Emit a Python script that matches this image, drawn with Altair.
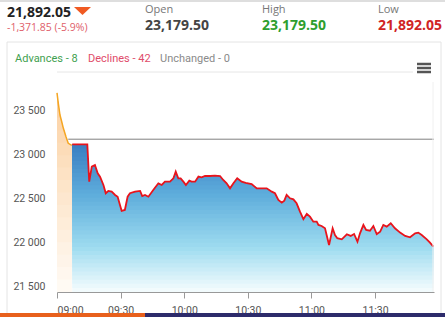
import json
import altair as alt
import pandas as pd

# ---------------- data ----------------
orange_min = [0, 0.6, 1.4, 2.2, 3.0, 4.2, 5.3, 7.0]
orange_val = [23705, 23590, 23454, 23380, 23303, 23210, 23133, 23110]

red_min = [7.2, 14.3, 15.2, 16.4, 17.9, 19.2, 20.3, 21.9, 23.0, 24.2, 25.8, 27.4, 28.6,
           29.7, 30.5, 32.0, 33.3, 34.4, 36.8, 39.2, 40.2, 41.5, 43.1, 45.4, 47.8, 49.4,
           50.9, 53.3, 54.9, 56.0, 57.2, 58.3, 59.6, 60.8, 62.4, 63.5, 65.1, 66.7, 68.2,
           69.8, 72.2, 74.5, 76.9, 78.4, 80.0, 81.6, 83.2, 85.0, 87.1, 89.0, 91.8, 94.2,
           96.5, 98.9, 101.3, 102.8, 104.4, 106.0, 107.2, 108.3, 109.9, 111.5, 113.0,
           114.6, 116.2, 117.8, 119.3, 120.9, 122.5, 123.3, 124.8, 126.4, 128.3, 130.0,
           131.1, 132.2, 134.3, 136.7, 138.5, 140.1, 141.7, 142.9, 144.5, 145.8, 147.6,
           149.2, 150.8, 152.4, 153.9, 155.5, 157.4, 159.4, 161.8, 164.2, 166.5, 168.9,
           170.4, 172.0, 174.4, 175.9, 177.5]
red_val = [23121, 23121, 22697, 22867, 22886, 22792, 22754, 22659, 22565, 22591, 22583, 22546, 22526,
           22432, 22364, 22375, 22526, 22565, 22583, 22591, 22534, 22546, 22526, 22602, 22678, 22659,
           22697, 22697, 22735, 22811, 22735, 22735, 22697, 22659, 22708, 22697, 22697, 22754, 22746,
           22761, 22761, 22765, 22761, 22716, 22678, 22621, 22678, 22735, 22697, 22683, 22670, 22621,
           22621, 22621, 22583, 22565, 22489, 22458, 22481, 22546, 22508, 22496, 22451,
           22356, 22270, 22330, 22299, 22242, 22242, 22205, 22193, 22167, 21977, 22167,
           22091, 22054, 22042, 22099, 22080, 22102, 22015, 22110, 22205, 22148, 22140,
           22193, 22102, 22129, 22205, 22186, 22224, 22167, 22118, 22080, 22065, 22110,
           22118, 22091, 22042, 22004, 21958]

open_val = 23179.5
rule_start_min = 5.3
y_ticks = [21500, 22000, 22500, 23000, 23500]
x_ticks = [0, 30, 60, 90, 120, 150]
x_labels = ["09:00", "09:30", "10:00", "10:30", "11:00", "11:30"]

header_labels = ["Open", "High", "Low"]
header_values = ["23,179.50", "23,179.50", "21,892.05"]
last_value = "21,892.05"
change_text = "-1,371.85 (-5.9%)"
legend_texts = ["Advances - 8", "Declines - 42", "Unchanged - 0"]

# ---------------- tables ----------------
orange_df = pd.DataFrame({"m": orange_min, "v": orange_val})
red_df = pd.DataFrame({"m": red_min, "v": red_val})
rule_df = pd.DataFrame({"m": [rule_start_min], "m2": [177.8], "v": [open_val]})
one = pd.DataFrame({"a": [0]})

W, H = 377, 220
Y_MIN, Y_MAX = 21443, 23943
xs = alt.Scale(domain=[0, 177.8], nice=False, zero=False)
ys = alt.Scale(domain=[Y_MIN, Y_MAX], nice=False, zero=False)

x_axis = alt.Axis(values=x_ticks, labelExpr=json.dumps(x_labels) + "[datum.value/30]",
                  tickSize=6, tickColor="#999", domainColor="#999", labelColor="#555",
                  labelFont="Roboto", labelFontSize=10.5, labelPadding=7, grid=False,
                  title=None)
y_axis = alt.Axis(values=y_ticks, labelExpr="replace(format(datum.value, ','), ',', ' ')",
                  ticks=False, domain=False, grid=False, labelPadding=12,
                  labelColor="#555", labelFont="Roboto", labelFontSize=10.5, title=None)

X = alt.X("m:Q", scale=xs, axis=x_axis)
Y = alt.Y("v:Q", scale=ys, axis=y_axis)


# ----- colour ramp helpers (style only) -----
def hex2rgb(h):
    h = h.lstrip("#")
    return [int(h[i:i + 2], 16) for i in (0, 2, 4)]


def ramp(stops, t):
    for (o0, c0), (o1, c1) in zip(stops, stops[1:]):
        if o0 <= t <= o1:
            f = (t - o0) / (o1 - o0) if o1 > o0 else 0
            a, b = hex2rgb(c0), hex2rgb(c1)
            return "#" + "".join(f"{round(a[i] + (b[i] - a[i]) * f):02x}" for i in range(3))
    return stops[-1][1]


blue_stops = [(0, "#3a7ec2"), (0.35, "#5faedc"), (0.7, "#9fdcf0"), (1, "#f6fcfe")]
orange_stops = [(0, "#fbcf9f"), (0.5, "#fde6cc"), (1, "#fffbf6")]


def banded(df, top_val, stops, n):
    layers = []
    for k in range(n):
        lo = Y_MIN + (top_val - Y_MIN) * k / n
        t = 1 - (k + 0.5) / n
        layers.append(
            alt.Chart(df).transform_calculate(b=f"min(datum.v, {lo})")
            .mark_area(color=ramp(stops, t), opacity=1)
            .encode(x=X, y=Y, y2="b:Q"))
    return layers


blue_bands = banded(red_df, max(red_val), blue_stops, 36)
orange_bands = banded(orange_df, max(orange_val), orange_stops, 16)

red_line = alt.Chart(red_df).mark_line(color="#e8141c", strokeWidth=1.8).encode(x=X, y=Y)
orange_line = alt.Chart(orange_df).mark_line(color="#f5a623", strokeWidth=1.5).encode(x=X, y=Y)
open_rule = alt.Chart(rule_df).mark_rule(color="#808080", strokeWidth=1).encode(
    x=X, x2="m2:Q", y=Y)


def txt(t, px, py, size, color, weight="normal", font="Open Sans"):
    return alt.Chart(one).mark_text(text=t, align="left", baseline="alphabetic",
                                    fontSize=size, color=color, fontWeight=weight,
                                    font=font).encode(x=alt.value(px), y=alt.value(py))


def rect(x1, x2, y1, y2, fill):
    return alt.Chart(one).mark_rect(color=fill).encode(
        x=alt.value(x1), x2=alt.value(x2), y=alt.value(y1), y2=alt.value(y2))


def hline(x1, x2, y, color, width):
    return alt.Chart(one).mark_rule(color=color, strokeWidth=width).encode(
        x=alt.value(x1), x2=alt.value(x2), y=alt.value(y))


def vline(x, y1, y2, color, width):
    return alt.Chart(one).mark_rule(color=color, strokeWidth=width).encode(
        x=alt.value(x), y=alt.value(y1), y2=alt.value(y2))


decor = [
    rect(-57, 388, -72, -70, "#dedede"),
    hline(-50, 384, -30, "#e4e4e4", 1),
    vline(-50, -30, 245, "#e4e4e4", 1),
    vline(384, -30, 245, "#e4e4e4", 1),
    hline(0, 356, 0, "#e6e6e6", 1),
    vline(376, 10, 220, "#f0f0f0", 1),
    rect(-57, 88, 241, 245, "#e8601c"),
    rect(88, 388, 241, 245, "#2d2b6b"),
    hline(360, 374, -8, "#555555", 2.5),
    hline(360, 374, -4, "#555555", 2.5),
    hline(360, 374, 0, "#555555", 2.5),
    txt(last_value, -50, -55, 14, "#222222", "bold"),
    alt.Chart(one).mark_point(shape="M-1,-0.47L1,-0.47L0,0.47Z", filled=True, size=289,
                              color="#f05a22", opacity=1).encode(
        x=alt.value(25.5), y=alt.value(-61)),
    txt(change_text, -50, -41, 10.5, "#e0606a"),
    txt(header_labels[0], 88, -59, 11, "#777777"),
    txt(header_values[0], 88, -42, 14, "#444444", "bold"),
    txt(header_labels[1], 205, -59, 11, "#777777"),
    txt(header_values[1], 205, -42, 14, "#2e9e2e", "bold"),
    txt(header_labels[2], 321, -59, 11, "#777777"),
    txt(header_values[2], 321, -42, 14, "#d02424", "bold"),
    txt(legend_texts[0], -42, -10.5, 11, "#3f9f50", font="Roboto"),
    txt(legend_texts[1], 31, -10.5, 11, "#df4c6a", font="Roboto"),
    txt(legend_texts[2], 103, -10.5, 11, "#8a8a8a", font="Roboto"),
]

chart = alt.layer(*blue_bands, *orange_bands, open_rule, orange_line, red_line, *decor).properties(
    width=W, height=H,
    autosize=alt.AutoSizeParams(type="none"),
    padding={"left": 57, "top": 72, "right": 11, "bottom": 25},
    background="white",
).configure_view(stroke=None)

chart.save("out.html", embed_options={"renderer": "svg", "actions": False})
